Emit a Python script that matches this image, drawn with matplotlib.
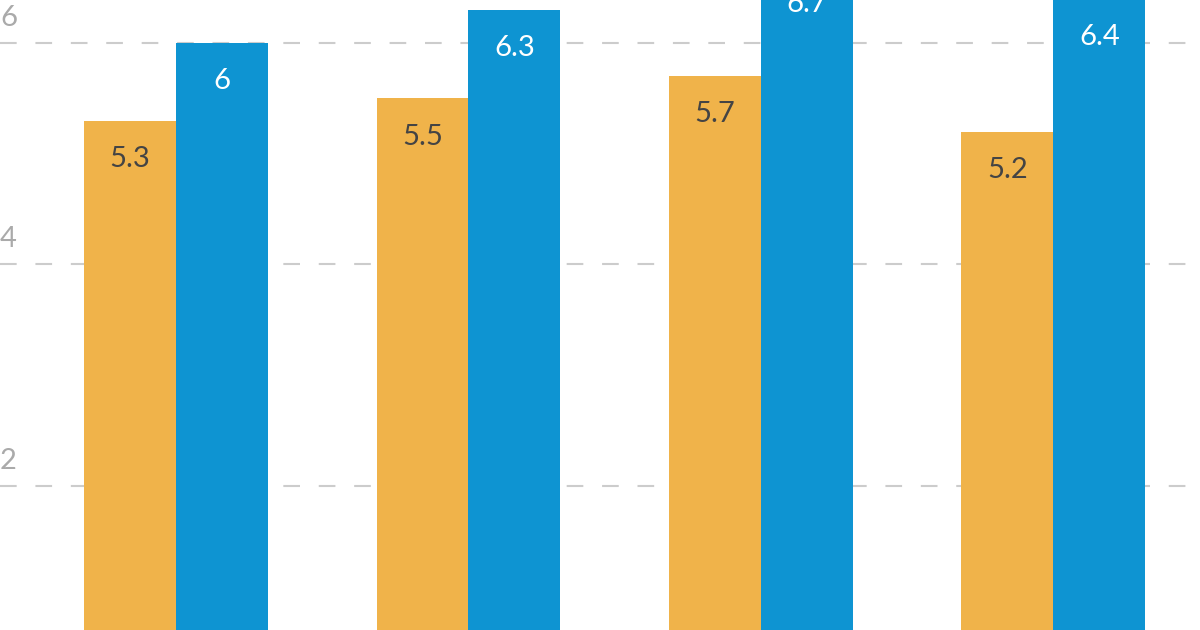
import matplotlib
matplotlib.use("Agg")
import matplotlib.pyplot as plt
import numpy as np

groups = ["A", "B", "C", "D"]
orange_vals = [5.3, 5.5, 5.7, 5.2]
blue_vals = [6.0, 6.3, 6.7, 6.4]
yticks = [2, 4, 6]

orange = "#F0B34A"
blue = "#0E94D2"

plt.rcParams['font.family'] = ['Lato', 'DejaVu Sans']

fig = plt.figure(figsize=(12, 6.3), dpi=100)
ax = fig.add_axes([0, 0, 1, 1])

x = np.arange(len(groups))
w = 0.3145

# dashed grid behind the bars
for t in yticks:
    ax.axhline(t, color="#cccccc", lw=1.5, dashes=(8, 9), zorder=0)
    ax.text(-0.6017, t + 0.11, str(t), ha="left", va="bottom", fontsize=21,
            color="#aaaaaa")

b1 = ax.bar(x - w / 2, orange_vals, w, color=orange, zorder=2)
b2 = ax.bar(x + w / 2, blue_vals, w, color=blue, zorder=2)

for bar, v in zip(b1, orange_vals):
    ax.annotate(f"{v:g}", (bar.get_x() + bar.get_width() / 2, v),
                xytext=(0, -27.5), textcoords="offset points",
                ha="center", va="center", fontsize=21, color="#444444",
                zorder=3)
for bar, v in zip(b2, blue_vals):
    ax.annotate(f"{v:g}", (bar.get_x() + bar.get_width() / 2, v),
                xytext=(0, -27.5), textcoords="offset points",
                ha="center", va="center", fontsize=21, color="white",
                zorder=3, annotation_clip=False)

ax.set_xlim(-0.6017, 3.5009)
ax.set_ylim(0.700, 6.388)
ax.axis("off")

fig.savefig("out.png", dpi=100)
